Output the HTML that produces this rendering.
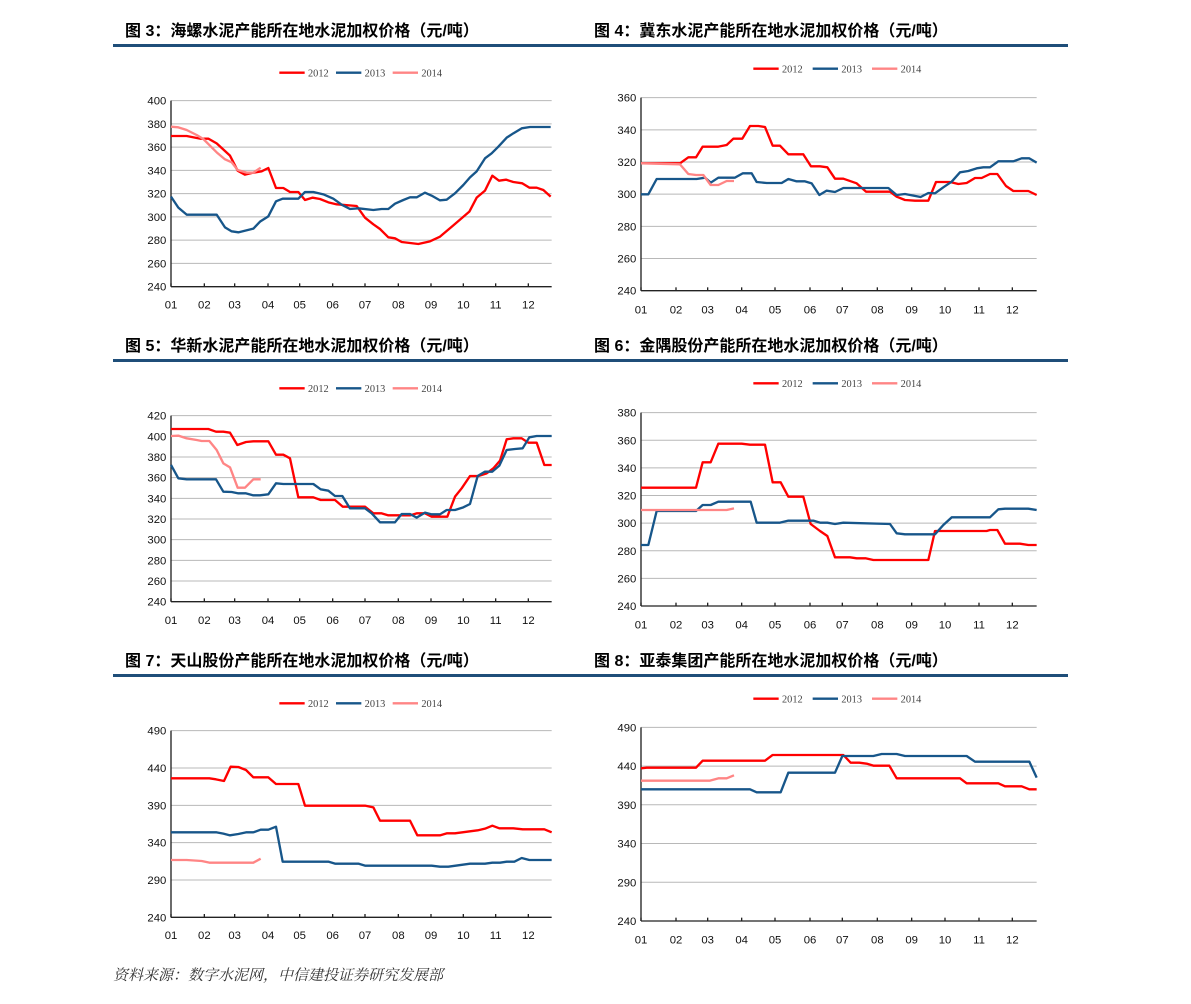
<!DOCTYPE html>
<html><head><meta charset="utf-8"><style>
html,body{margin:0;padding:0;background:#fff;}
svg{display:block}
</style></head><body>
<svg id="s" width="1191" height="1004" xmlns="http://www.w3.org/2000/svg">
<g font-family="Liberation Sans, Noto Sans CJK SC, sans-serif" font-weight="bold" font-size="16" fill="#000">
<text x="125" y="36">图 3：海螺水泥产能所在地水泥加权价格（元/吨）</text>
<text x="594" y="36">图 4：冀东水泥产能所在地水泥加权价格（元/吨）</text>
<text x="125" y="351">图 5：华新水泥产能所在地水泥加权价格（元/吨）</text>
<text x="594" y="351">图 6：金隅股份产能所在地水泥加权价格（元/吨）</text>
<text x="125" y="666">图 7：天山股份产能所在地水泥加权价格（元/吨）</text>
<text x="594" y="666">图 8：亚泰集团产能所在地水泥加权价格（元/吨）</text>
</g>
<g fill="#1F4E79">
<rect x="113" y="44" width="477" height="3"/><rect x="590" y="44" width="478" height="3"/>
<rect x="113" y="359" width="477" height="3"/><rect x="590" y="359" width="478" height="3"/>
<rect x="113" y="674" width="477" height="3"/><rect x="590" y="674" width="478" height="3"/>
</g>
<text x="113" y="980" font-family="Liberation Serif, Noto Serif CJK SC, serif" font-style="italic" font-size="15" fill="#333">资料来源：数字水泥网，中信建投证券研究发展部</text>
</svg>
<script>
var NS="http://www.w3.org/2000/svg",S=document.getElementById('s');
function el(t,a,p,txt){var e=document.createElementNS(NS,t);for(var k in a)e.setAttribute(k,a[k]);if(txt)e.textContent=txt;p.appendChild(e);return e;}
var MA=[183,283,374,474,569,668,765,865,963,1060,1157,1255],MB=[153,258,353,455,555,660,757,862,965,1065,1167,1267];
var LA=[508,678,848],LB=[490,668,846];
function P(a){var s='';for(var i=0;i<a.length;i+=2)s+=(i?'L':'M')+a[i]+','+a[i+1];return s;}
var C=[
{o:[110,0],x0:183,x1:1325,y0:302,y1:860,lab:[400,380,360,340,320,300,280,260,240],M:MA,L:LA,ly:218,my:925,
r:[183,408,230,408,270,416,295,416,320,430,360,467,383,512,405,524,430,518,455,514,475,504,498,564,520,564,540,576,565,576,585,600,608,593,630,597,655,607,680,613,740,618,765,653,790,673,810,687,835,712,855,715,875,726,925,732,960,724,990,710,1030,676,1078,635,1100,593,1125,572,1147,527,1167,542,1188,539,1210,546,1237,550,1258,563,1280,563,1300,570,1322,590],
b:[183,590,205,623,230,644,320,644,345,682,365,694,385,697,430,686,450,665,475,649,498,604,518,596,565,596,585,576,610,576,640,583,670,596,695,614,720,627,745,625,790,630,815,627,835,627,855,611,880,600,900,592,920,592,945,578,965,587,990,601,1010,599,1035,580,1060,555,1080,532,1100,514,1125,475,1145,460,1165,440,1190,413,1210,400,1235,385,1260,381,1322,381],
p:[183,380,205,382,230,390,260,405,280,417,300,437,320,457,345,478,365,487,383,510,410,518,430,518,452,503]},
{o:[590,50],x0:153,x1:1340,y0:143,y1:722,lab:[360,340,320,300,280,260,240],M:MB,L:LB,ly:56,my:790,
r:[153,340,270,340,295,322,318,322,338,290,385,290,410,285,430,266,457,266,480,228,505,228,525,231,548,287,570,287,595,313,640,313,663,349,690,349,712,352,735,386,760,386,800,400,828,425,900,425,920,440,945,450,975,452,1015,452,1038,396,1080,396,1105,402,1130,399,1155,384,1175,384,1200,372,1222,372,1248,408,1270,423,1315,423,1340,435],
b:[153,433,175,433,200,387,320,387,345,383,362,398,385,383,435,383,458,370,485,370,500,396,530,399,575,399,595,387,620,394,645,394,665,400,688,435,710,422,735,426,760,414,895,414,920,435,945,432,970,437,992,441,1015,429,1035,430,1060,412,1085,395,1110,367,1135,363,1160,355,1180,352,1200,352,1225,334,1270,334,1295,325,1318,325,1340,338],
p:[153,340,270,343,295,372,318,375,340,375,362,405,385,405,410,393,432,393]},
{o:[110,370],x0:183,x1:1325,y0:137,y1:695,lab:[420,400,380,360,340,320,300,280,260,240],M:MA,L:LA,ly:55,my:762,
r:[183,177,295,177,318,185,340,185,360,188,382,225,408,216,430,214,475,214,498,254,520,254,540,265,565,382,610,382,632,390,675,390,698,410,765,410,790,430,815,430,835,436,900,436,920,430,945,430,965,440,1012,440,1035,380,1055,355,1080,318,1105,318,1130,310,1150,295,1170,272,1190,208,1210,205,1235,205,1255,218,1280,218,1303,285,1325,285],
b:[183,285,205,325,230,328,318,328,340,365,365,366,385,370,408,370,430,376,450,376,475,373,498,340,520,342,610,342,632,358,655,362,675,378,697,378,720,415,765,415,785,430,810,457,855,457,875,432,900,432,920,443,945,428,965,433,990,433,1010,420,1035,420,1060,412,1080,402,1103,318,1125,305,1147,305,1168,287,1190,240,1215,237,1238,235,1258,202,1280,198,1325,198],
p:[183,198,205,197,230,205,260,210,275,213,298,213,320,240,340,280,360,292,383,353,405,353,430,328,452,328]},
{o:[590,370],x0:153,x1:1340,y0:128,y1:708,lab:[380,360,340,320,300,280,260,240],M:MB,L:LB,ly:40,my:775,
r:[153,353,318,353,338,277,362,277,385,221,455,221,480,224,525,224,548,337,572,337,595,380,640,380,662,462,690,483,712,498,735,562,780,562,800,565,828,565,850,570,1015,570,1035,483,1190,483,1200,480,1222,480,1245,521,1290,521,1315,525,1340,525],
b:[153,525,175,525,200,423,318,423,338,405,362,405,385,395,482,395,500,458,570,458,595,452,670,452,690,458,712,458,735,462,760,458,900,462,920,490,945,493,1035,493,1060,465,1085,442,1200,442,1225,418,1245,416,1315,416,1340,420],
p:[153,420,410,420,432,415]},
{o:[110,690],x0:183,x1:1325,y0:122,y1:682,lab:[490,440,390,340,290,240],M:MA,L:LA,ly:40,my:747,
r:[183,265,298,265,318,268,342,273,362,230,385,231,408,240,430,262,475,262,498,282,565,282,585,347,765,347,790,352,810,392,900,392,922,436,990,436,1010,430,1035,430,1080,424,1103,421,1125,416,1147,407,1168,415,1210,415,1238,418,1303,418,1325,427],
b:[183,427,320,427,340,431,360,436,385,432,408,427,430,427,452,419,475,419,498,410,518,515,655,515,675,521,745,521,765,527,965,527,990,530,1015,530,1080,521,1125,521,1147,518,1170,518,1190,515,1213,515,1235,504,1258,510,1325,510],
p:[183,510,230,510,275,513,298,518,430,518,452,506]},
{o:[590,640],x0:153,x1:1340,y0:262,y1:843,lab:[490,440,390,340,290,240],M:MB,L:LB,ly:176,my:910,
r:[153,385,170,383,318,383,338,362,525,362,548,345,760,345,782,368,808,368,830,371,850,377,898,377,920,415,1110,415,1130,430,1225,430,1245,439,1295,439,1318,448,1340,448],
b:[153,448,480,448,500,457,572,457,595,398,735,398,757,348,850,348,875,342,920,342,945,348,1130,348,1155,365,1318,365,1340,413],
p:[153,422,360,422,385,415,410,415,432,406]}
];
var COL=['#FF0000','#17568A','#FF8585'],YR=['2012','2013','2014'];
C.forEach(function(c){
 var g=el('g',{transform:'translate('+c.o[0]+','+c.o[1]+') scale(0.33333)'},S);
 var n=c.lab.length-1,st=(c.y1-c.y0)/n;
 for(var i=0;i<=n;i++){var y=c.y0+i*st;
  if(i<n)el('line',{x1:c.x0,x2:c.x1,y1:y,y2:y,stroke:'#b8b8b8','stroke-width':3},g);
  el('text',{x:c.x0-14,y:y+12,'text-anchor':'end','font-family':'Liberation Sans, sans-serif','font-size':34,fill:'#111'},g,c.lab[i]);}
 el('line',{x1:c.x0,x2:c.x0,y1:c.y0,y2:c.y1,stroke:'#222','stroke-width':4},g);
 el('line',{x1:c.x0,x2:c.x1,y1:c.y1,y2:c.y1,stroke:'#222','stroke-width':4},g);
 c.M.forEach(function(x,i){el('line',{x1:x,x2:x,y1:c.y1,y2:c.y1-10,stroke:'#222','stroke-width':4},g);
  el('text',{x:x,y:c.my,'text-anchor':'middle','font-family':'Liberation Sans, sans-serif','font-size':34,fill:'#111'},g,(i<9?'0':'')+(i+1));});
 [c.r,c.b,c.p].forEach(function(d,i){el('path',{d:P(d),fill:'none',stroke:COL[i],'stroke-width':7,'stroke-linejoin':'round'},g);});
 c.L.forEach(function(x,i){el('line',{x1:x,x2:x+76,y1:c.ly,y2:c.ly,stroke:COL[i],'stroke-width':7},g);
  el('text',{x:x+86,y:c.ly+11,'font-family':'Liberation Serif, serif','font-size':31,fill:'#444'},g,YR[i]);});
});
</script>
</body></html>
